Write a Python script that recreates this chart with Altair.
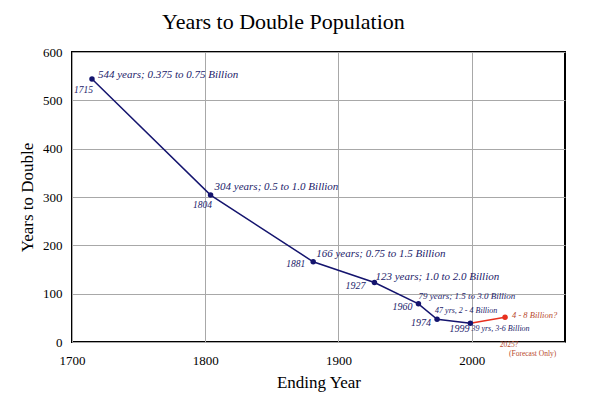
import altair as alt
import pandas as pd

# ---- data ----
years = [1715, 1804, 1881, 1927, 1960, 1974, 1999]
doubling = [544, 304, 166, 123, 79, 47, 39]
forecast_years = [1999, 2025]
forecast_doubling = [39, 51]

descriptions = [
    "544 years; 0.375 to 0.75 Billion",
    "304 years; 0.5 to 1.0 Billion",
    "166 years; 0.75 to 1.5 Billion",
    "123 years; 1.0 to 2.0 Billion",
    "79 years; 1.5 to 3.0 Billion",
    "47 yrs, 2 - 4 Billion",
    "39 yrs, 3-6 Billion",
]
year_labels = ["1715", "1804", "1881", "1927", "1960", "1974", "1999"]
forecast_text = "4 - 8 Billion?"
forecast_year_label = "2025?"
forecast_note = "(Forecast Only)"
x_ticks = [1700, 1800, 1900, 2000]
y_ticks = [0, 100, 200, 300, 400, 500, 600]

FONT = "Liberation Serif"
NAVY = "#14146e"
TEXT_NAVY = "#22226a"
RED = "#e8301e"
TEXT_RED = "#b84a2e"

main = pd.DataFrame({"year": years, "value": doubling,
                     "desc": descriptions, "ylab": year_labels})
fc = pd.DataFrame({"year": forecast_years, "value": forecast_doubling})

xscale = alt.Scale(domain=[1700, 2070], nice=False, zero=False)
yscale = alt.Scale(domain=[0, 600], nice=False)

base = alt.Chart(main)

line = base.mark_line(color=NAVY, strokeWidth=1.5).encode(
    x=alt.X("year:Q", scale=xscale, title="Ending Year",
            axis=alt.Axis(values=x_ticks, format="d", labelFlush=False,
                          labelFont=FONT, labelFontSize=13, labelFontWeight="normal",
                          titleFont=FONT, titleFontSize=17, titleFontWeight="normal",
                          labelPadding=12, titlePadding=7)),
    y=alt.Y("value:Q", scale=yscale, title="Years to Double",
            axis=alt.Axis(values=y_ticks, labelFont=FONT, labelFontSize=13,
                          labelFontWeight="normal", titleFont=FONT, titleFontSize=17,
                          titleFontWeight="normal", labelPadding=10, titlePadding=6)),
)
pts = base.mark_circle(color=NAVY, size=30, opacity=1).encode(x="year:Q", y="value:Q")

fline = alt.Chart(fc).mark_line(color=RED, strokeWidth=1.5).encode(x="year:Q", y="value:Q")
fpt = alt.Chart(fc).transform_filter(alt.datum.year == 2025).mark_circle(
    color=RED, size=30, opacity=1).encode(x="year:Q", y="value:Q")

# label styling per point: (size, dx, dy) for description; (size, align, dx, dy) for year
desc_style = [(11, 6, -1), (11, 4, -5), (11, 3, -5), (11, 1, -3),
              (9, 0, -5), (8, -2, -6), (8, 1, 8)]
year_style = [(9.5, "right", 1, 14), (9.5, "center", -8, 13), (9.5, "right", -8, 5),
              (10, "right", -9, 6), (10, "right", -6, 6), (10, "right", -6, 7),
              (10, "right", -1, 9)]

layers = [line, fline, pts, fpt]
for i in range(len(years)):
    row = main.iloc[[i]]
    s, dx, dy = desc_style[i]
    layers.append(alt.Chart(row).mark_text(
        font=FONT, fontStyle="italic", fontSize=s, color=TEXT_NAVY,
        align="left", baseline="alphabetic", dx=dx, dy=dy
    ).encode(x="year:Q", y="value:Q", text="desc:N"))
    s, al, dx, dy = year_style[i]
    layers.append(alt.Chart(row).mark_text(
        font=FONT, fontStyle="italic", fontSize=s, color=TEXT_NAVY,
        align=al, baseline="alphabetic", dx=dx, dy=dy
    ).encode(x="year:Q", y="value:Q", text="ylab:N"))

fc_pt = pd.DataFrame({"year": [forecast_years[1]], "value": [forecast_doubling[1]],
                      "t1": [forecast_text], "t2": [forecast_year_label], "t3": [forecast_note]})
layers.append(alt.Chart(fc_pt).mark_text(
    font=FONT, fontStyle="italic", fontSize=8.5, color=TEXT_RED,
    align="left", baseline="alphabetic", dx=7, dy=1).encode(x="year:Q", y="value:Q", text="t1:N"))
layers.append(alt.Chart(fc_pt).mark_text(
    font=FONT, fontSize=7.5, color=TEXT_RED,
    align="center", baseline="alphabetic", dx=4, dy=30).encode(x="year:Q", y="value:Q", text="t2:N"))
layers.append(alt.Chart(fc_pt).mark_text(
    font=FONT, fontSize=7.5, color=TEXT_RED,
    align="left", baseline="alphabetic", dx=4, dy=39).encode(x="year:Q", y="value:Q", text="t3:N"))

chart = alt.layer(*layers).properties(
    width=493, height=290,
    title=alt.TitleParams("Years to Double Population", font=FONT, fontSize=22,
                          fontWeight="normal", color="#000000", anchor="start",
                          frame="group", dx=90, offset=12),
    autosize=alt.AutoSizeParams(type="none"),
    padding={"left": 64, "top": 44, "right": 24, "bottom": 69},
).configure_view(stroke="#000000", strokeWidth=2).configure_axis(
    labelFont=FONT, titleFont=FONT, labelFontSize=13, titleFontSize=17,
    labelColor="#000000", titleColor="#000000", titleFontWeight="normal",
    ticks=False, domain=False, grid=True, gridColor="#a8a8a8", gridWidth=1,
    gridOpacity=1,
)

chart.save("out.html", embed_options={"renderer": "svg", "actions": False})
